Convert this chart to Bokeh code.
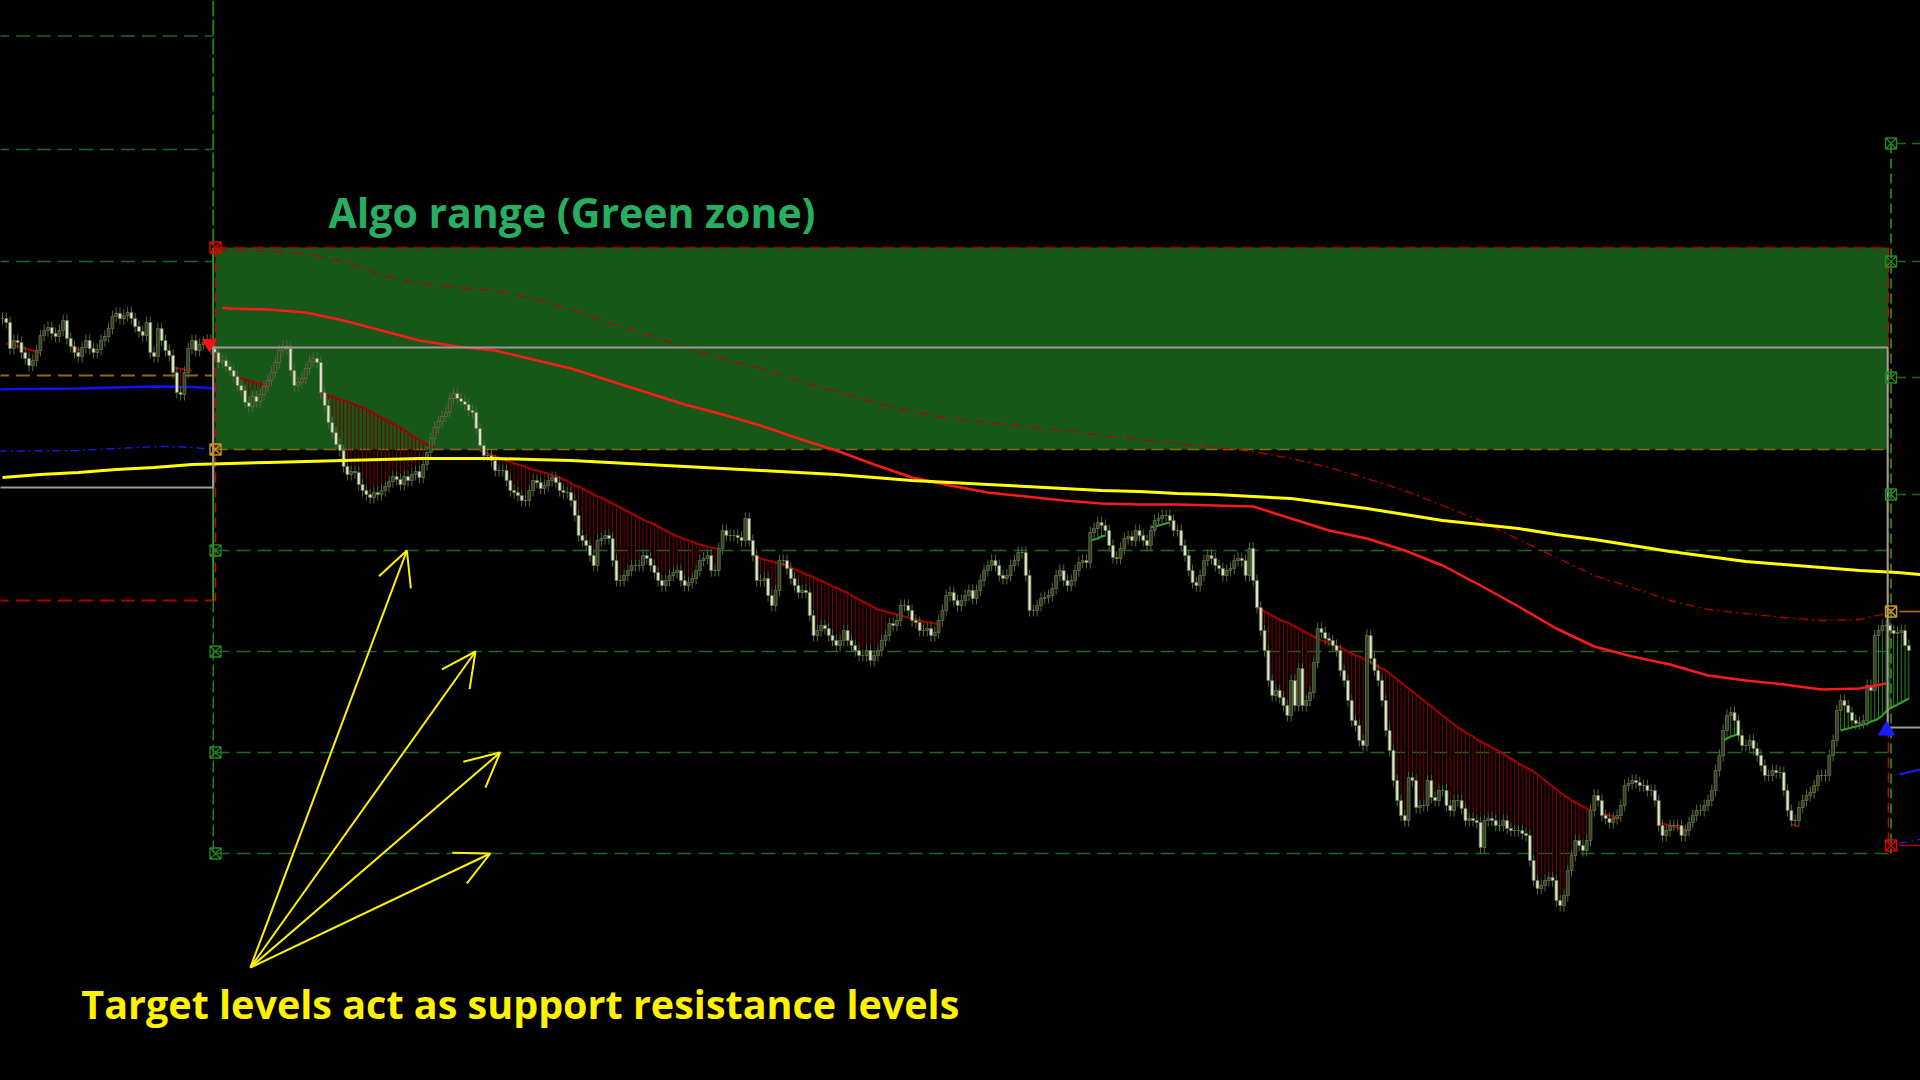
from bokeh.plotting import figure
from bokeh.models import Range1d, Arrow, OpenHead, Label
from bokeh.embed import file_html
from bokeh.resources import INLINE

# ---------------- data ----------------
PIP = 0.0001
CEIL = 1.1080          # price at the top edge of the chart; series below are points under it

CLOSE_PTS = [
    318, 322, 348, 340, 342, 352, 358, 365, 360, 350,
    335, 330, 327, 333, 336, 330, 320, 338, 346, 352,
    356, 347, 340, 348, 352, 349, 340, 336, 328, 316,
    313, 318, 315, 312, 318, 326, 331, 335, 322, 352,
    356, 328, 340, 350, 355, 372, 392, 394, 372, 348,
    340, 350, 344, 342, 340, 348, 352, 362, 360, 366,
    370, 376, 385, 390, 402, 406, 396, 401, 394, 386,
    380, 372, 362, 350, 346, 348, 370, 385, 382, 378,
    368, 361, 358, 362, 392, 405, 422, 432, 444, 450,
    466, 474, 471, 472, 484, 490, 494, 497, 492, 494,
    490, 486, 481, 476, 479, 484, 476, 480, 474, 471,
    477, 464, 452, 438, 427, 421, 416, 412, 398, 393,
    398, 401, 404, 410, 412, 428, 445,
    455, 455, 460, 470, 470,
    470, 480, 490, 492, 495, 500, 500, 490, 480, 482,
    488, 485, 480, 477, 482, 490, 492, 492, 500, 515,
    535, 540, 545, 555, 565, 540, 538, 535, 538, 560,
    580, 580, 575, 570, 565, 565, 565, 555, 558, 565,
    572, 580, 585, 580, 575, 572, 570, 580, 585, 582,
    578, 570, 560, 558, 555, 570, 570, 548, 530, 535,
    535, 535, 537, 540, 518, 540, 555, 580, 580, 578,
    595, 605, 590, 560, 560, 568, 578, 585, 592, 590,
    592, 615, 635, 630, 625, 628, 635, 640, 645, 640,
    630, 640, 645, 650, 655, 655, 650, 660, 655, 650,
    640, 635, 623, 625, 620, 605, 605, 610, 620, 622,
    630, 630, 628, 635, 632, 620, 610, 595, 592, 600,
    605, 600, 595, 590, 598, 590, 580, 570, 565,
    560, 565,
    575, 578, 575, 565, 560, 552, 552, 575, 610, 610,
    605, 598, 597, 595, 588, 575, 570, 580, 585, 580,
    570, 562, 560, 562, 532, 528, 522, 525, 530, 545,
    557, 558, 548, 538, 536, 540, 530, 535, 540, 545,
    530, 520, 518, 515, 515, 520, 530, 530, 545, 555,
    570, 582, 585, 575, 560, 555, 558, 565, 568, 575,
    570, 568, 560, 558, 560, 575, 548, 580, 607, 630,
    650, 680, 695, 690, 697, 705, 715, 680, 705, 668,
    705, 700, 692, 662, 628, 632, 638, 640, 645, 650,
    670, 680, 700, 720, 725, 740, 745, 635, 658, 670,
    680, 700, 730, 750, 780, 800, 815, 820, 777, 780,
    807, 805, 805, 780, 797, 800, 790, 790, 805, 810,
    800, 800, 808, 820, 818, 820, 822, 847, 820, 818,
    820, 825, 825, 820,
    828, 830, 830, 830, 833, 835,
    860, 880, 888, 885, 880, 877, 880, 900, 905, 895,
    870, 855, 840, 845, 850, 840, 810, 795, 800, 815,
    818, 822, 818, 815, 805, 785, 783, 780, 782, 785,
    785, 790, 790, 800, 825, 835, 830, 825, 825, 825,
    835, 830, 822, 815, 810,
    810, 805, 800, 790, 770, 755, 730, 715, 712, 720,
    735, 745, 745, 740, 748, 755, 765, 775, 775, 770,
    772, 772, 790, 810, 820, 820, 807, 800, 795, 792,
    785, 775, 775, 775, 755, 740, 710, 700, 705, 712,
    720, 723, 722, 720, 685, 690, 635, 630, 625, 625,
    630, 633, 632, 630, 645, 650,
]

# moving averages (bar index, points under CEIL)
YELLOW_BARS = list(range(0, 501, 10)) + [506]
YELLOW_PTS = [477, 474, 472, 469, 467, 464, 463, 462, 461, 460,
              459, 458, 458, 458, 459, 460, 462, 464, 466, 468,
              470, 472, 474, 477, 480, 482, 484, 486, 488, 490,
              491, 493, 494, 496, 498, 503, 508, 514, 520, 524,
              528, 534, 539, 545, 551, 556, 561, 564, 567, 570,
              572, 574]
RED_BARS = [58] + list(range(60, 491, 10)) + [497]
RED_PTS = [307, 308, 309, 312, 320, 330, 340, 346, 350, 359,
           368, 380, 392, 404, 414, 425, 438, 450, 464, 477,
           485, 492, 496, 500, 503, 504, 504, 505, 506, 518,
           530, 538, 550, 565, 585, 606, 628, 646, 656, 664,
           675, 680, 684, 689, 688, 683]
DASHDOT_BARS = [57] + list(range(60, 491, 10)) + [497]
DASHDOT_PTS = [249, 250, 251, 253, 261, 275, 283, 287, 290, 298,
               309, 322, 334, 347, 358, 368, 380, 391, 402, 411,
               418, 422, 426, 430, 435, 439, 443, 447, 451, 458,
               467, 478, 490, 505, 520, 539, 557, 575, 587, 600,
               609, 613, 617, 620, 619, 613]
BLUE_BARS = [-1, 20, 40, 50, 56.5]
BLUE_PTS = [388.7, 388, 386, 386.5, 388]
BLUE_DD_BARS = [-1, 20, 35, 42, 48, 53, 56.5]
BLUE_DD_PTS = [450.7, 450, 447, 446, 446.5, 448, 448]

# trend-stop segments (first bar, points under CEIL per bar)
DN1_START, DN1 = 1, [343, 344, 345, 346, 347, 348, 349, 350, 351, 352]
DN2_START, DN2 = 18, [345, 347, 349, 351]
DN3_START, DN3 = 45, [367, 368, 368, 369, 370, 370]
DN4_START, DN4 = 62, [377, 378, 379, 380, 381, 382, 383, 384, 385, 385]
DN5_START, DN5 = 84, [392, 394, 395, 396, 398, 399, 400, 401, 403, 404,
                      406, 407, 409, 411, 413, 415, 417, 419, 421, 423,
                      425, 427, 430, 432, 435, 437, 440, 442, 444, 446, 447]
DN6_START, DN6 = 126, [450, 451, 453, 454, 456, 457, 459, 460, 461, 463,
                       464, 465, 466, 468, 469, 470, 471, 472, 473, 475,
                       476, 477, 479, 480, 483, 485, 486, 488, 490, 492,
                       494, 496, 497, 499, 501, 503, 505, 507, 509, 511,
                       513, 515, 517, 519, 521, 522, 524, 526, 528, 530,
                       532, 534, 536, 537, 539, 540, 541, 543, 544, 545,
                       546, 547, 548, 548]
DN7_START, DN7 = 198, [555, 556, 558, 559, 560, 561, 562, 563, 564, 565,
                       567, 569, 570, 572, 574, 575, 577, 579, 580, 582,
                       584, 586, 587, 589, 591, 592, 595, 597, 599, 601,
                       603, 605, 607, 609, 610, 611, 612, 613, 614, 615,
                       616, 617, 618, 619, 620, 621, 622, 622, 623, 623]
DN8_START, DN8 = 331, [607, 609, 611, 613, 615, 617, 619, 621, 622, 624,
                       626, 628, 630, 632, 634, 636, 638, 640, 641, 643,
                       644, 646, 647, 649, 651, 653, 655, 656, 658, 660,
                       662, 664, 666, 668, 670, 673, 676, 679, 682, 685,
                       688, 691, 694, 697, 700, 703, 706, 709, 712, 715,
                       718, 721, 724, 727, 729, 732, 734, 736, 739, 741,
                       743, 745, 747, 749, 751, 753, 756, 758, 760, 763,
                       765, 767, 769, 771, 774, 777, 780, 783, 786, 789,
                       792, 795, 797, 800, 802, 804, 806, 808, 810]
DN9_START, DN9 = 422, [813, 814, 815, 816, 817, 818]
DN10_START, DN10 = 437, [822, 823, 824, 825, 826, 827, 828, 829, 830]
DN11_START, DN11 = 472, [824, 825, 826]
UP1_START, UP1 = 287, [540, 539, 538, 536, 535]
UP2_START, UP2 = 303, [527, 526, 525, 524, 523, 522]
UP3_START, UP3 = 454, [740, 738, 736, 735, 733]
UP4_START, UP4 = 485, [730, 729, 728, 727, 726, 725, 724, 723, 721, 720,
                       718, 715, 711, 708, 706, 704, 702, 700, 698]

# levels (prices)
ZONE_TOP, ZONE_BOTTOM = 1.0833, 1.0631
BOX_TOP, BOX_LOW_LEFT, BOX_LOW_RIGHT = 1.0733, 1.0593, 1.0353
TARGETS = [1.0530, 1.0429, 1.0328, 1.0227]
PREV_LEVELS = [1.10445, 1.0931, 1.0819]
PREV_ORANGE, PREV_RED = 1.0705, 1.0480
NEXT_LEVELS = [1.0937, 1.0819, 1.0703, 1.0586]
NEXT_ORANGE, NEXT_RED = 1.0469, 1.0235
NEXT_BLUE = [1.0306, 1.0312]
NEXT_BLUE_DD = [1.0237, 1.0242]

# session bars
SESSION_BAR = 55.6
RANGE_START, RANGE_END = 56.2, 497.6
NEXT_SESSION_BAR = 498.3
SELL_ARROW = (54.6, 1.0737)
BUY_ARROW = (497.1, 1.0350)

# annotation anchors
TITLE_AT = (86.0, 1.0869)
NOTE_AT = (20.8, 1.0077)
ARROW_FROM = (65.4, 1.0113)
ARROW_TO_BARS = [106.7, 124.8, 131.3, 128.7]


def pr(pts):
    return CEIL - pts * PIP


# ---------------- figure ----------------
W, H = 1920, 1080
p = figure(width=W, height=H, output_backend="svg", toolbar_location=None,
           x_range=Range1d(-0.528, 506.07), y_range=Range1d(1.0000, 1.1080),
           min_border=0)
p.background_fill_color = "#000000"
p.border_fill_color = "#000000"
p.outline_line_color = None
p.axis.visible = False
p.grid.visible = False

# green zone
p.quad(left=[RANGE_START], right=[RANGE_END], bottom=[ZONE_BOTTOM], top=[ZONE_TOP],
       fill_color="#175717", line_color=None)
p.line([RANGE_START, RANGE_END], [ZONE_TOP] * 2, line_color="#a00000",
       line_width=1.5, line_dash="12 6")
p.line([RANGE_START, RANGE_END], [ZONE_BOTTOM] * 2, line_color="#8c6a14",
       line_width=1.5, line_dash="12 6")

LEVEL_GREEN = "#1b6b1b"
# previous-session levels
p.multi_line([[-2, SESSION_BAR]] * len(PREV_LEVELS), [[v, v] for v in PREV_LEVELS],
             line_color=LEVEL_GREEN, line_width=1.5, line_dash="14 7")
p.line([-2, SESSION_BAR], [PREV_ORANGE] * 2, line_color="#8c6a14", line_width=1.8, line_dash="14 7")
p.line([-2, RANGE_START], [PREV_RED] * 2, line_color="#b00000", line_width=1.8, line_dash="14 7")
# target levels
p.multi_line([[RANGE_START, RANGE_END + 0.3]] * len(TARGETS), [[v, v] for v in TARGETS],
             line_color=LEVEL_GREEN, line_width=1.5, line_dash="14 7")
# next-session stubs
p.multi_line([[499.6, 507]] * len(NEXT_LEVELS), [[v, v] for v in NEXT_LEVELS],
             line_color=LEVEL_GREEN, line_width=1.5, line_dash="10 6")
p.line([500.5, 507], [NEXT_ORANGE] * 2, line_color="#b07a10", line_width=1.5)
p.line([500.5, 507], [NEXT_RED] * 2, line_color="#b00000", line_width=1.5)
p.line([500.5, 507], NEXT_BLUE, line_color="#1a1aff", line_width=2)
p.line([500.5, 507], NEXT_BLUE_DD, line_color="#1a1aff", line_width=1.2, line_dash="8 4 2 4")

# blue lines on the left
p.line(BLUE_BARS, [pr(v) for v in BLUE_PTS], line_color="#1010ff", line_width=2.5)
p.line(BLUE_DD_BARS, [pr(v) for v in BLUE_DD_PTS], line_color="#1a1aff", line_width=1.3,
       line_dash="8 4 2 4")

# vertical lines
p.line([SESSION_BAR] * 2, [pr(0), ZONE_TOP], line_color="#1f7a1f", line_width=2, line_dash="16 3")
p.line([SESSION_BAR] * 2, [ZONE_TOP, PREV_RED], line_color="#22a22a", line_width=2)
p.line([SESSION_BAR] * 2, [PREV_RED, TARGETS[-1]], line_color="#1f7a1f", line_width=1.5,
       line_dash="12 4")
p.line([RANGE_START] * 2, [ZONE_TOP, PREV_RED], line_color="#d00000", line_width=1.5, line_dash="10 5")
p.line([SESSION_BAR] * 2, [PREV_ORANGE, ZONE_BOTTOM], line_color="#b07a10", line_width=1.5,
       line_dash="8 5")
p.line([NEXT_SESSION_BAR] * 2, [NEXT_LEVELS[0], TARGETS[-1]], line_color="#1f7a1f",
       line_width=2, line_dash="10 5")
p.line([RANGE_END] * 2, [ZONE_TOP, NEXT_RED], line_color="#d00000", line_width=1.5, line_dash="10 5")

# ---------------- candles ----------------
n = len(CLOSE_PTS)
bars = list(range(n))
close = [pr(v) for v in CLOSE_PTS]
open_ = [close[0]] + close[:-1]
WICK = 6 * PIP
top = [max(o, c) for o, c in zip(open_, close)]
bot = [min(o, c) for o, c in zip(open_, close)]
hi = [t + WICK for t in top]
lo = [b - WICK for b in bot]
body_fill = ["#36421f" if c > o else "#dfe8cc" for o, c in zip(open_, close)]

# trend-stop hatching
down_segments = [(DN1_START, DN1), (DN2_START, DN2), (DN3_START, DN3), (DN4_START, DN4),
                 (DN5_START, DN5), (DN6_START, DN6), (DN7_START, DN7), (DN8_START, DN8),
                 (DN9_START, DN9), (DN10_START, DN10), (DN11_START, DN11)]
up_segments = [(UP1_START, UP1), (UP2_START, UP2), (UP3_START, UP3), (UP4_START, UP4)]


def hatch(segments, below):
    xs_l, ys_l, hx, h0, h1 = [], [], [], [], []
    for start, vals in segments:
        ks = [start + j for j in range(len(vals)) if start + j < n]
        ps = [pr(vals[j]) for j in range(len(ks))]
        xs_l.append(ks)
        ys_l.append(ps)
        for k, lv in zip(ks, ps):
            if below and lv > hi[k]:
                hx.append(k); h0.append(lv); h1.append(hi[k])
            if not below and lv < lo[k]:
                hx.append(k); h0.append(lv); h1.append(lo[k])
    return xs_l, ys_l, hx, h0, h1


dxs, dys, dhx, dh0, dh1 = hatch(down_segments, True)
uxs, uys, uhx, uh0, uh1 = hatch(up_segments, False)
p.segment(dhx, dh0, dhx, dh1, line_color="#7a0000", line_width=1)
p.segment(uhx, uh0, uhx, uh1, line_color="#1f8a1f", line_width=1)
p.multi_line(dxs, dys, line_color="#a00000", line_width=2)
p.multi_line(uxs, uys, line_color="#2ea02e", line_width=2)

p.segment(bars, hi, bars, lo, line_color="#56673c", line_width=1)
p.vbar(x=bars, width=0.76, top=top, bottom=bot, fill_color=body_fill,
       line_color="#63744a", line_width=0.8)

# moving averages
p.line(DASHDOT_BARS, [pr(v) for v in DASHDOT_PTS], line_color="#b40000", line_width=1.3,
       line_dash="9 4 2 4")
p.line(RED_BARS, [pr(v) for v in RED_PTS], line_color="#ff1a1a", line_width=2.5)
p.line(YELLOW_BARS, [pr(v) for v in YELLOW_PTS], line_color="#ffff00", line_width=3)

# grey range box outline
p.line([-2, SESSION_BAR, SESSION_BAR, RANGE_END - 0.2, RANGE_END - 0.2, 507],
       [BOX_LOW_LEFT, BOX_LOW_LEFT, BOX_TOP, BOX_TOP, BOX_LOW_RIGHT, BOX_LOW_RIGHT],
       line_color="#9c9c9c", line_width=2)

# markers
p.scatter([RANGE_START] * 4, TARGETS, marker="square_x", size=11, fill_alpha=0,
          line_color="#1f8a1f", line_width=1.3)
p.scatter([RANGE_START], [ZONE_TOP], marker="square_x", size=11, fill_alpha=0,
          line_color="#e00000", line_width=1.5)
p.scatter([RANGE_START], [ZONE_BOTTOM], marker="square_x", size=11, fill_alpha=0,
          line_color="#c8901a", line_width=1.5)
p.scatter([NEXT_SESSION_BAR] * 4, NEXT_LEVELS, marker="square_x", size=11, fill_alpha=0,
          line_color="#1f8a1f", line_width=1.3)
p.scatter([NEXT_SESSION_BAR], [NEXT_ORANGE], marker="square_x", size=11, fill_alpha=0,
          line_color="#d09a1a", line_width=1.5)
p.scatter([NEXT_SESSION_BAR], [NEXT_RED], marker="square_x", size=11, fill_alpha=0,
          line_color="#e00000", line_width=1.5)
p.scatter([SELL_ARROW[0]], [SELL_ARROW[1]], marker="inverted_triangle", size=14,
          fill_color="#ff1010", line_color="#ff1010")
p.scatter([BUY_ARROW[0]], [BUY_ARROW[1]], marker="triangle", size=16,
          fill_color="#1a1aff", line_color="#1a1aff")

# ---------------- annotations ----------------
p.add_layout(Label(x=TITLE_AT[0], y=TITLE_AT[1], text="Algo range (Green zone)",
                   text_color="#27ae60", text_font="Open Sans", text_font_style="bold",
                   text_font_size="41px", text_baseline="middle", text_align="left"))
p.add_layout(Label(x=NOTE_AT[0], y=NOTE_AT[1], text="Target levels act as support resistance levels",
                   text_color="#fff200", text_font="Open Sans", text_font_style="bold",
                   text_font_size="39.5px", text_baseline="middle", text_align="left"))
for bx, py in zip(ARROW_TO_BARS, TARGETS):
    p.add_layout(Arrow(end=OpenHead(size=34, line_color="#fff200", line_width=2),
                       x_start=ARROW_FROM[0], y_start=ARROW_FROM[1], x_end=bx, y_end=py,
                       line_color="#fff200", line_width=2))

# ---------------- output ----------------
try:
    from jinja2 import Template
    TEMPLATE = Template("{% extends base %}\n{% block preamble %}<style>html, body "
                        "{ background-color: #000000; margin: 0; overflow: hidden; }"
                        "</style>{% endblock %}\n")
    html = file_html(p, INLINE, title="Algo range", template=TEMPLATE)
except Exception:
    html = file_html(p, INLINE, title="Algo range")
open("out.html", "w").write(html)
